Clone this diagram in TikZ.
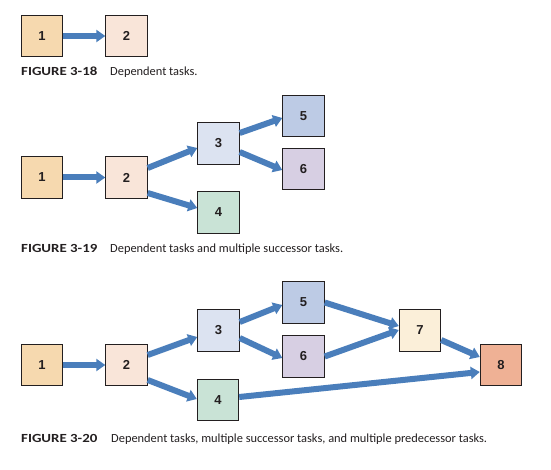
\documentclass[tikz,border=0pt]{standalone}
\usepackage{fontspec}
\setmainfont{Carlito}
\newfontfamily\numfont{Liberation Sans}
\usetikzlibrary{arrows.meta,calc}
\definecolor{boxline}{HTML}{231F20}
\definecolor{arrowblue}{HTML}{4A7EBB}
\definecolor{cA}{HTML}{F6D9AF}
\definecolor{cB}{HTML}{F9E5D9}
\definecolor{cC}{HTML}{DCE3F1}
\definecolor{cD}{HTML}{C9E3D6}
\definecolor{cE}{HTML}{BDCBE5}
\definecolor{cF}{HTML}{D7CFE3}
\definecolor{cG}{HTML}{FBEFD9}
\definecolor{cH}{HTML}{EFB195}
\begin{document}
\begin{tikzpicture}[x=1pt,y=-1pt,
  taskbox/.style={draw=boxline, line width=0.9pt, minimum width=41.5pt, minimum height=41.5pt, inner sep=0pt,
    font=\numfont\fontsize{13}{15}\selectfont\bfseries, text=boxline},
  conn/.style={draw=arrowblue, line width=6pt, -{Triangle[width=12pt,length=9pt]}},
  capbold/.style={anchor=base west, inner sep=0pt, font=\fontsize{12.4}{14}\selectfont\bfseries, text=boxline},
  captext/.style={anchor=base west, inner sep=0pt, font=\fontsize{12.4}{14}\selectfont, text=boxline}]
\useasboundingbox (0,0) rectangle (551,470);
% ---------- Figure 3-18
\node[taskbox, fill=cA] (a1) at (42,36) {1};
\node[taskbox, fill=cB] (a2) at (126.5,36) {2};
\draw[conn] (a1.east) -- (a2.west);
\node[capbold] (capa) at (21,75.7) {\scalebox{1.2}[1]{FIGURE 3-18}};
\node[captext] (capatext) at (110,75.7) {Dependent tasks.};
% ---------- Figure 3-19
\node[taskbox, fill=cA] (b1) at (42,177.5) {1};
\node[taskbox, fill=cB] (b2) at (126.5,177.5) {2};
\node[taskbox, fill=cC] (b3) at (218.5,143.5) {3};
\node[taskbox, fill=cD] (b4) at (218.5,212.5) {4};
\node[taskbox, fill=cE] (b5) at (303.5,116) {5};
\node[taskbox, fill=cF] (b6) at (303.5,169) {6};
\draw[conn] (b1.east) -- (b2.west);
\draw[conn] ($(b2.east)+(0,-9.5)$) -- ($(b3.west)+(0,4.5)$);
\draw[conn] ($(b2.east)+(0,15.5)$) -- ($(b4.west)+(0,-4.5)$);
\draw[conn] ($(b3.east)+(0,-10.5)$) -- ($(b5.west)+(0,2)$);
\draw[conn] ($(b3.east)+(0,8.5)$) -- ($(b6.west)+(0,1)$);
\node[capbold] (capb) at (21,253) {\scalebox{1.2}[1]{FIGURE 3-19}};
\node[captext] (capbtext) at (110,253) {Dependent tasks and multiple successor tasks.};
% ---------- Figure 3-20
\node[taskbox, fill=cA] (c1) at (42,365) {1};
\node[taskbox, fill=cB] (c2) at (126.5,365) {2};
\node[taskbox, fill=cC] (c3) at (218.5,330.5) {3};
\node[taskbox, fill=cD] (c4) at (218,400) {4};
\node[taskbox, fill=cE] (c5) at (303.5,302.5) {5};
\node[taskbox, fill=cF] (c6) at (303.5,356.5) {6};
\node[taskbox, fill=cG] (c7) at (420,330.5) {7};
\node[taskbox, fill=cH] (c8) at (501,365) {8};
\draw[conn] (c1.east) -- (c2.west);
\draw[conn] ($(c2.east)+(0,-10)$) -- ($(c3.west)+(0,6.5)$);
\draw[conn] ($(c2.east)+(0,15)$) -- ($(c4.west)+(0,-1)$);
\draw[conn] ($(c3.east)+(0,-8.5)$) -- ($(c5.west)+(0,2.5)$);
\draw[conn] ($(c3.east)+(0,7.5)$) -- ($(c6.west)+(0,1.5)$);
\draw[conn] (c5.east) -- ($(c7.west)+(0,-4.5)$);
\draw[conn] (c6.east) -- ($(c7.west)+(0,-0.5)$);
\draw[conn] ($(c7.east)+(0,9.5)$) -- ($(c8.west)+(0,-8)$);
\draw[conn] ($(c4.east)+(0,-3)$) -- ($(c8.west)+(0,7)$);
\node[capbold] (capc) at (21,442) {\scalebox{1.2}[1]{FIGURE 3-20}};
\node[captext] (capctext) at (111,442) {Dependent tasks, multiple successor tasks, and multiple predecessor tasks.};
\end{tikzpicture}
\end{document}
